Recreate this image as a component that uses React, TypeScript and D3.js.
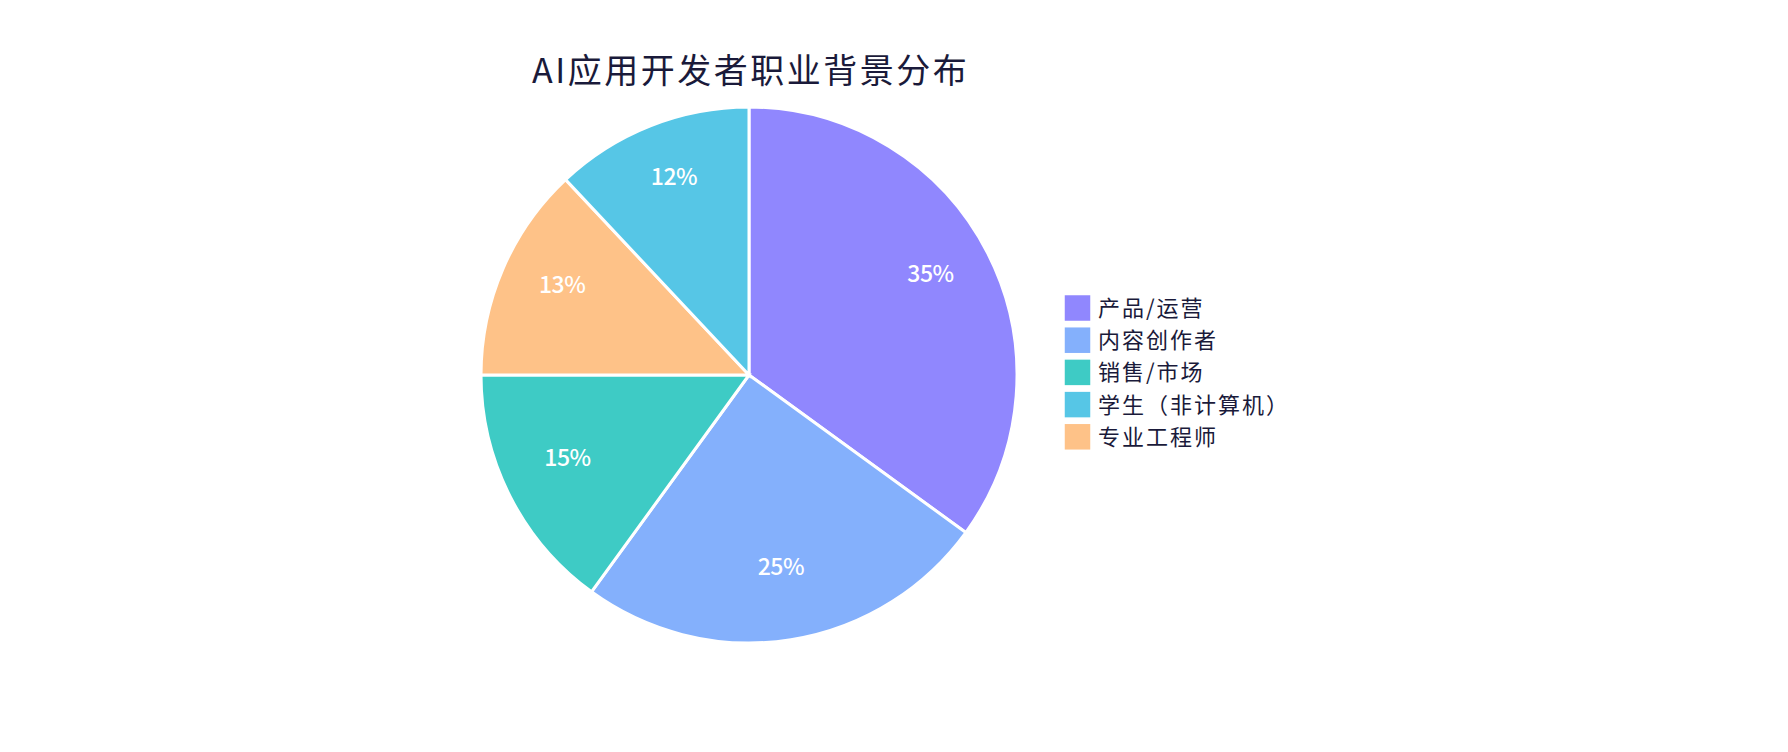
import React from "react";
import * as d3 from "d3";

const categories = ["产品/运营", "内容创作者", "销售/市场", "学生（非计算机）", "专业工程师"];
const values = [35, 25, 15, 12, 13];
const colors = ["#9087FE", "#84B0FC", "#3ECBC5", "#56C6E6", "#FEC288"];
const title = "AI应用开发者职业背景分布";

const W = 1788;
const H = 752;
const cx = 749;
const cy = 375;
const R = 268;
const FONT = "'Noto Sans CJK SC', 'Noto Sans', sans-serif";

export default function App() {
  const data = categories.map((c, i) => ({ name: c, value: values[i], color: colors[i], idx: i }));
  const sorted = [...data].sort((a, b) => b.value - a.value);
  const total = d3.sum(values);
  const pie = d3
    .pie<any>()
    .value((d) => d.value)
    .sort(null)
    .startAngle(0)
    .endAngle(2 * Math.PI);
  const arcs = pie(sorted);
  const arc = d3.arc<any>().innerRadius(0).outerRadius(R);
  const labelArc = d3.arc<any>().innerRadius(R * 0.76).outerRadius(R * 0.76);

  const legendX = 1064;
  const legendY0 = 308;
  const legendStep = 32.2;

  return (
    <svg width={W} height={H} style={{ display: "block", position: "absolute", left: 0, top: 0 }}>
      <rect width={W} height={H} fill="#ffffff" />
      <text x={532} y={83} fontFamily={FONT} fontSize={34} letterSpacing={2.5} fill="#1a1a3a">
        {title}
      </text>
      <g transform={`translate(${cx},${cy})`}>
        {arcs.map((a, i) => (
          <path key={i} d={arc(a) as string} fill={a.data.color} stroke="#ffffff" strokeWidth={3} />
        ))}
        {arcs.map((a, i) => {
          const [lx, ly] = labelArc.centroid(a);
          return (
            <text
              key={"l" + i}
              x={lx}
              y={ly - 1}
              textAnchor="middle"
              fontFamily={FONT}
              fontSize={23}
              fontWeight={500}
              letterSpacing={-0.5}
              fill="#ffffff"
            >
              {`${Math.round((a.data.value / total) * 100)}%`}
            </text>
          );
        })}
      </g>
      <g>
        {data.map((d, i) => (
          <g key={"lg" + i} transform={`translate(${legendX},${legendY0 + i * legendStep})`}>
            <rect x={0} y={-13.5} width={27} height={27} fill={d.color} stroke="#ffffff" strokeWidth={1.5} />
            <text x={34} y={8} fontFamily={FONT} fontSize={22} letterSpacing={2} fill="#1a1a3a">
              {d.name}
            </text>
          </g>
        ))}
      </g>
    </svg>
  );
}
